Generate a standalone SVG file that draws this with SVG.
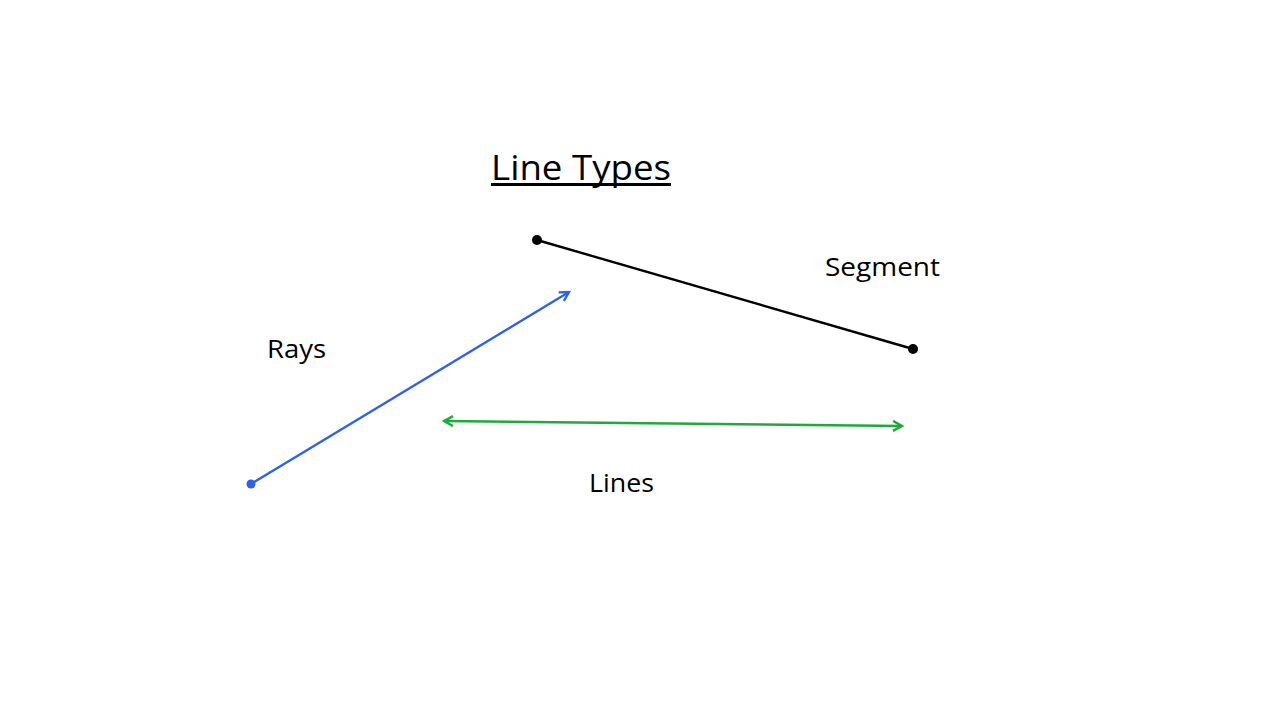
<svg xmlns="http://www.w3.org/2000/svg" width="1280" height="720" viewBox="0 0 1280 720">
<style>
.t{font-family:"Open Sans","Liberation Sans",sans-serif;fill:#000}
.lbl{font-size:25px}
</style>
<defs>
<marker id="ab" viewBox="0 0 12 12" refX="10" refY="6" markerWidth="12" markerHeight="12" markerUnits="userSpaceOnUse" orient="auto-start-reverse"><path d="M1,1 L10,6 L1,11" fill="none" stroke="#2f62e0" stroke-width="2.4"/></marker>
<marker id="ag" viewBox="0 0 12 12" refX="10" refY="6" markerWidth="12" markerHeight="12" markerUnits="userSpaceOnUse" orient="auto-start-reverse"><path d="M1,1 L10,6 L1,11" fill="none" stroke="#1faa3c" stroke-width="2.4"/></marker>
</defs>
<rect width="1280" height="720" fill="#fff"/>
<g id="title">
<text class="t" x="491" y="180" font-size="34" textLength="180" lengthAdjust="spacingAndGlyphs">Line Types</text>
<rect x="491" y="183" width="180" height="3" fill="#000"/>
</g>
<g id="connectors">
<line id="segment" x1="537" y1="240" x2="913" y2="349" stroke="#000" stroke-width="2.4"/>
<line id="ray" x1="251" y1="484" x2="569" y2="292" stroke="#2f62e0" stroke-width="2.4" marker-end="url(#ab)"/>
<line id="lineg" x1="444" y1="421" x2="902" y2="426" stroke="#1faa3c" stroke-width="2.4" marker-start="url(#ag)" marker-end="url(#ag)"/>
</g>
<g id="points">
<circle cx="537" cy="240" r="5" fill="#000"/>
<circle cx="913" cy="349" r="5" fill="#000"/>
<circle cx="251" cy="484" r="4.5" fill="#2f62e0"/>
</g>
<g id="label-segment"><text class="t lbl" x="825" y="276" textLength="115" lengthAdjust="spacingAndGlyphs">Segment</text></g>
<g id="label-rays"><text class="t lbl" x="267" y="358" textLength="59" lengthAdjust="spacingAndGlyphs">Rays</text></g>
<g id="label-lines"><text class="t lbl" x="589" y="492" textLength="65" lengthAdjust="spacingAndGlyphs">Lines</text></g>
</svg>
